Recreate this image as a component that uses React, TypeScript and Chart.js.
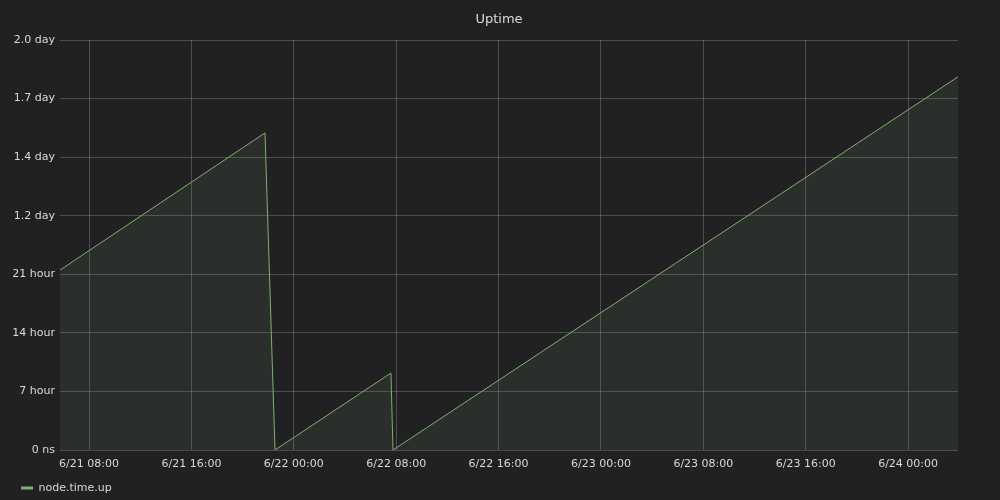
import React, { useEffect, useRef } from "react";
import { Chart, registerables } from "chart.js";

Chart.register(...registerables);

// hours since 6/21 00:00
const timesHours = [5.73, 21.75, 22.53, 31.59, 31.75, 75.9];
// uptime in hours
const uptimeHours = [21.5, 37.9, 0, 9.2, 0, 44.6];

const xTickValues = [8, 16, 24, 32, 40, 48, 56, 64, 72];
const xTickLabels = [
  "6/21 08:00",
  "6/21 16:00",
  "6/22 00:00",
  "6/22 08:00",
  "6/22 16:00",
  "6/23 00:00",
  "6/23 08:00",
  "6/23 16:00",
  "6/24 00:00",
];
const yTickValues = [0, 7, 14, 21, 28, 35, 42, 49];
const yTickLabels = ["0 ns", "7 hour", "14 hour", "21 hour", "1.2 day", "1.4 day", "1.7 day", "2.0 day"];

const seriesName = "node.time.up";
const xMin = 5.73;
const xMax = 75.9;

export default function App() {
  const ref = useRef<HTMLCanvasElement | null>(null);

  useEffect(() => {
    if (!ref.current) return;
    const points = timesHours.map((t, i) => ({ x: t, y: uptimeHours[i] }));
    const text = "#d8d9da";
    const green = "#7eb26d";
    const grid = "rgba(255,255,255,0.2)";
    const font = { family: "'DejaVu Sans', sans-serif", size: 11 };
    const shiftLegend = {
      id: "shiftLegend",
      afterLayout: (c: any) => {
        if (c.legend) {
          c.legend.left += 14;
          c.legend.right += 14;
          c.legend.top += 3.5;
          c.legend.bottom += 3.5;
        }
      },
    };
    const chart = new Chart(ref.current, {
      type: "line",
      data: {
        datasets: [
          {
            label: seriesName,
            data: points,
            borderColor: green,
            backgroundColor: "rgba(126,178,109,0.1)",
            borderWidth: 1,
            pointRadius: 0,
            tension: 0,
            fill: "origin",
            yAxisID: "y",
          },
        ],
      },
      plugins: [shiftLegend],
      options: {
        animation: false,
        responsive: false,
        maintainAspectRatio: false,
        layout: { padding: { left: 0, right: 2, top: 0, bottom: 0 } },
        scales: {
          x: {
            type: "linear",
            min: xMin,
            max: xMax,
            afterBuildTicks: (scale: any) => {
              scale.ticks = xTickValues.map((v) => ({ value: v }));
            },
            afterFit: (scale: any) => {
              scale.height = 22;
            },
            ticks: {
              color: text,
              font,
              padding: 8,
              maxRotation: 0,
              autoSkip: false,
              callback: (v: any) => {
                const i = xTickValues.indexOf(Number(v));
                return i >= 0 ? xTickLabels[i] : "";
              },
            },
            grid: { color: grid, drawTicks: false },
            border: { display: false },
          },
          y: {
            type: "linear",
            position: "left",
            min: 0,
            max: 49,
            afterBuildTicks: (scale: any) => {
              scale.ticks = yTickValues.map((v) => ({ value: v }));
            },
            afterFit: (scale: any) => {
              scale.width = 60;
            },
            ticks: {
              color: text,
              font,
              padding: 5,
              autoSkip: false,
              callback: (v: any) => {
                const i = yTickValues.indexOf(Number(v));
                return i >= 0 ? yTickLabels[i] : "";
              },
            },
            grid: { color: grid, drawTicks: false },
            border: { display: false },
          },
          yRight: {
            type: "linear",
            position: "right",
            min: 0,
            max: 1,
            afterFit: (scale: any) => {
              scale.width = 40;
            },
            ticks: { display: false },
            grid: { display: false, drawTicks: false },
            border: { display: false },
          },
        },
        plugins: {
          title: {
            display: true,
            text: "Uptime",
            color: text,
            font: { family: "'DejaVu Sans', sans-serif", size: 13, weight: "normal" },
            padding: { top: 12, bottom: 12.4 },
          },
          legend: {
            display: true,
            position: "bottom",
            align: "start",
            labels: {
              color: text,
              font,
              boxWidth: 12,
              boxHeight: 3,
              padding: 7,
              generateLabels: (c: any) =>
                Chart.defaults.plugins.legend.labels.generateLabels(c).map((l: any) => ({
                  ...l,
                  fillStyle: green,
                  strokeStyle: green,
                  lineWidth: 0,
                })),
            },
          },
          tooltip: { enabled: false },
        },
      },
    });
    return () => chart.destroy();
  }, []);

  return (
    <div
      style={{
        position: "fixed",
        left: 0,
        top: 0,
        width: 1000,
        height: 500,
        background: "#212124",
      }}
    >
      <canvas ref={ref} width={1000} height={500} style={{ width: 1000, height: 500, display: "block" }} />
    </div>
  );
}
